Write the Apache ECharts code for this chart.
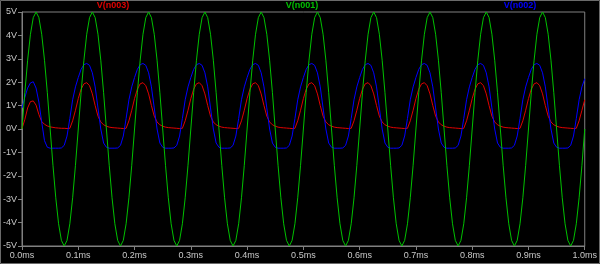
<!DOCTYPE html>
<html><head><meta charset="utf-8">
<script src="https://cdn.jsdelivr.net/npm/echarts@6/dist/echarts.min.js"></script>
<style>html,body{margin:0;padding:0;background:#000}#c{width:600px;height:264px}</style>
</head><body><div id="c"></div>
<script>
// sample spacing of the traces (ms)
const stepMs = 0.005;

// V(n001) – green
const vn001 = [
0, 1.55, 2.94, 4.05, 4.76, 5, 4.76, 4.05, 2.94, 1.55, 0, -1.55, -2.94, -4.05, -4.76, -5, -4.76, -4.05, -2.94, -1.55,
0, 1.55, 2.94, 4.05, 4.76, 5, 4.76, 4.05, 2.94, 1.55, 0, -1.55, -2.94, -4.05, -4.76, -5, -4.76, -4.05, -2.94, -1.55,
0, 1.55, 2.94, 4.05, 4.76, 5, 4.76, 4.05, 2.94, 1.55, 0, -1.55, -2.94, -4.05, -4.76, -5, -4.76, -4.05, -2.94, -1.55,
0, 1.55, 2.94, 4.05, 4.76, 5, 4.76, 4.05, 2.94, 1.55, 0, -1.55, -2.94, -4.05, -4.76, -5, -4.76, -4.05, -2.94, -1.55,
0, 1.55, 2.94, 4.05, 4.76, 5, 4.76, 4.05, 2.94, 1.55, 0, -1.55, -2.94, -4.05, -4.76, -5, -4.76, -4.05, -2.94, -1.55,
0, 1.55, 2.94, 4.05, 4.76, 5, 4.76, 4.05, 2.94, 1.55, 0, -1.55, -2.94, -4.05, -4.76, -5, -4.76, -4.05, -2.94, -1.55,
0, 1.55, 2.94, 4.05, 4.76, 5, 4.76, 4.05, 2.94, 1.55, 0, -1.55, -2.94, -4.05, -4.76, -5, -4.76, -4.05, -2.94, -1.55,
0, 1.55, 2.94, 4.05, 4.76, 5, 4.76, 4.05, 2.94, 1.55, 0, -1.55, -2.94, -4.05, -4.76, -5, -4.76, -4.05, -2.94, -1.55,
0, 1.55, 2.94, 4.05, 4.76, 5, 4.76, 4.05, 2.94, 1.55, 0, -1.55, -2.94, -4.05, -4.76, -5, -4.76, -4.05, -2.94, -1.55,
0, 1.55, 2.94, 4.05, 4.76, 5, 4.76, 4.05, 2.94, 1.55, 0, -1.55, -2.94, -4.05, -4.76, -5, -4.76, -4.05, -2.94, -1.55,
0
];

// V(n002) – blue
const vn002 = [
0.9, 1.35, 1.75, 1.97, 2.02, 1.75, 1.15, 0.3, -0.5, -0.78, -0.82, -0.82, -0.82, -0.82, -0.81, -0.7, -0.3, 0.45, 1.25, 1.8,
2.2, 2.55, 2.75, 2.8, 2.72, 2.4, 1.8, 0.9, 0.0, -0.6, -0.78, -0.82, -0.82, -0.82, -0.81, -0.7, -0.3, 0.45, 1.25, 1.8,
2.2, 2.55, 2.75, 2.8, 2.72, 2.4, 1.8, 0.9, 0.0, -0.6, -0.78, -0.82, -0.82, -0.82, -0.81, -0.7, -0.3, 0.45, 1.25, 1.8,
2.2, 2.55, 2.75, 2.8, 2.72, 2.4, 1.8, 0.9, 0.0, -0.6, -0.78, -0.82, -0.82, -0.82, -0.81, -0.7, -0.3, 0.45, 1.25, 1.8,
2.2, 2.55, 2.75, 2.8, 2.72, 2.4, 1.8, 0.9, 0.0, -0.6, -0.78, -0.82, -0.82, -0.82, -0.81, -0.7, -0.3, 0.45, 1.25, 1.8,
2.2, 2.55, 2.75, 2.8, 2.72, 2.4, 1.8, 0.9, 0.0, -0.6, -0.78, -0.82, -0.82, -0.82, -0.81, -0.7, -0.3, 0.45, 1.25, 1.8,
2.2, 2.55, 2.75, 2.8, 2.72, 2.4, 1.8, 0.9, 0.0, -0.6, -0.78, -0.82, -0.82, -0.82, -0.81, -0.7, -0.3, 0.45, 1.25, 1.8,
2.2, 2.55, 2.75, 2.8, 2.72, 2.4, 1.8, 0.9, 0.0, -0.6, -0.78, -0.82, -0.82, -0.82, -0.81, -0.7, -0.3, 0.45, 1.25, 1.8,
2.2, 2.55, 2.75, 2.8, 2.72, 2.4, 1.8, 0.9, 0.0, -0.6, -0.78, -0.82, -0.82, -0.82, -0.81, -0.7, -0.3, 0.45, 1.25, 1.8,
2.2, 2.55, 2.75, 2.8, 2.72, 2.4, 1.8, 0.9, 0.0, -0.6, -0.78, -0.82, -0.82, -0.82, -0.81, -0.7, -0.3, 0.45, 1.25, 1.8,
2.15
];

// V(n003) – red
const vn003 = [
0.02, 0.4, 0.9, 1.17, 1.2, 1.02, 0.62, 0.32, 0.2, 0.13, 0.09, 0.07, 0.05, 0.04, 0.03, 0.03, 0.02, 0.03, 0.35, 0.8,
1.3, 1.7, 1.93, 1.98, 1.85, 1.5, 1.0, 0.55, 0.3, 0.18, 0.12, 0.08, 0.06, 0.05, 0.04, 0.03, 0.02, 0.03, 0.35, 0.8,
1.3, 1.7, 1.93, 1.98, 1.85, 1.5, 1.0, 0.55, 0.3, 0.18, 0.12, 0.08, 0.06, 0.05, 0.04, 0.03, 0.02, 0.03, 0.35, 0.8,
1.3, 1.7, 1.93, 1.98, 1.85, 1.5, 1.0, 0.55, 0.3, 0.18, 0.12, 0.08, 0.06, 0.05, 0.04, 0.03, 0.02, 0.03, 0.35, 0.8,
1.3, 1.7, 1.93, 1.98, 1.85, 1.5, 1.0, 0.55, 0.3, 0.18, 0.12, 0.08, 0.06, 0.05, 0.04, 0.03, 0.02, 0.03, 0.35, 0.8,
1.3, 1.7, 1.93, 1.98, 1.85, 1.5, 1.0, 0.55, 0.3, 0.18, 0.12, 0.08, 0.06, 0.05, 0.04, 0.03, 0.02, 0.03, 0.35, 0.8,
1.3, 1.7, 1.93, 1.98, 1.85, 1.5, 1.0, 0.55, 0.3, 0.18, 0.12, 0.08, 0.06, 0.05, 0.04, 0.03, 0.02, 0.03, 0.35, 0.8,
1.3, 1.7, 1.93, 1.98, 1.85, 1.5, 1.0, 0.55, 0.3, 0.18, 0.12, 0.08, 0.06, 0.05, 0.04, 0.03, 0.02, 0.03, 0.35, 0.8,
1.3, 1.7, 1.93, 1.98, 1.85, 1.5, 1.0, 0.55, 0.3, 0.18, 0.12, 0.08, 0.06, 0.05, 0.04, 0.03, 0.02, 0.03, 0.35, 0.8,
1.3, 1.7, 1.93, 1.98, 1.85, 1.5, 1.0, 0.55, 0.3, 0.18, 0.12, 0.08, 0.06, 0.05, 0.04, 0.03, 0.02, 0.03, 0.35, 0.8,
1.25
];

const traceNames = ['V(n003)', 'V(n001)', 'V(n002)'];
const traceColors = ['#e00000', '#00c000', '#0000ff'];

function toPairs(arr) { return arr.map((v, i) => [Math.round(i * stepMs * 1000) / 1000, v]); }

const chart = echarts.init(document.getElementById('c'), null, { renderer: 'canvas' });
const axisGray = '#808080';
const labelColor = '#c8c8c8';
const font = 'Liberation Sans, Arial, sans-serif';

chart.setOption({
  backgroundColor: '#000',
  animation: false,
  grid: { left: 19, top: 12, right: 13, bottom: 18, show: true, borderColor: axisGray, borderWidth: 1, backgroundColor: '#000' },
  xAxis: {
    type: 'value', min: 0, max: 1, interval: 0.1,
    axisLine: { show: true, onZero: false, lineStyle: { color: axisGray, width: 1 } },
    axisTick: { show: true, length: 4, lineStyle: { color: axisGray } },
    axisLabel: { color: labelColor, fontSize: 9, fontFamily: font, margin: 5, formatter: v => v.toFixed(1) + 'ms' },
    splitLine: { show: false }
  },
  yAxis: {
    type: 'value', min: -5, max: 5, interval: 1,
    axisLine: { show: true, onZero: false, lineStyle: { color: axisGray, width: 1 } },
    axisTick: { show: true, length: 4, lineStyle: { color: axisGray } },
    axisLabel: { color: labelColor, fontSize: 9, fontFamily: font, margin: 5, formatter: v => v + 'V' },
    splitLine: { show: false }
  },
  graphic: [
    { type: 'rect', shape: { x: 0.5, y: 0.5, width: 599, height: 263 }, style: { fill: null, stroke: '#6a6a6a', lineWidth: 1 }, silent: true, z: 100 },
    { type: 'text', x: 113, y: 6, style: { text: traceNames[0], fill: traceColors[0], font: 'bold 9px ' + font, textAlign: 'center', textVerticalAlign: 'middle' } },
    { type: 'text', x: 302, y: 6, style: { text: traceNames[1], fill: traceColors[1], font: 'bold 9px ' + font, textAlign: 'center', textVerticalAlign: 'middle' } },
    { type: 'text', x: 520, y: 6, style: { text: traceNames[2], fill: traceColors[2], font: 'bold 9px ' + font, textAlign: 'center', textVerticalAlign: 'middle' } }
  ],
  series: [
    { name: traceNames[0], type: 'line', data: toPairs(vn003), showSymbol: false, lineStyle: { color: traceColors[0], width: 1 }, z: 2 },
    { name: traceNames[2], type: 'line', data: toPairs(vn002), showSymbol: false, lineStyle: { color: traceColors[2], width: 1 }, z: 3 },
    { name: traceNames[1], type: 'line', data: toPairs(vn001), showSymbol: false, lineStyle: { color: traceColors[1], width: 1 }, z: 4 }
  ]
});
</script>
</body></html>
